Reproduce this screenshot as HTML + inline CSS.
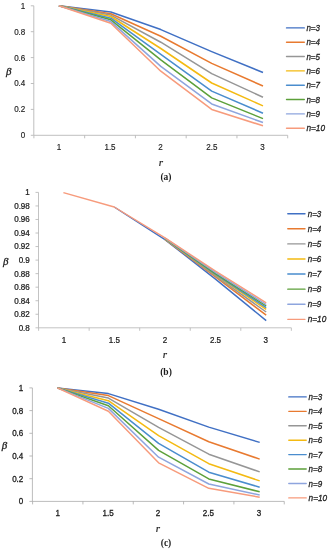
<!DOCTYPE html>
<html><head><meta charset="utf-8"><title>Figure</title>
<style>html,body{margin:0;padding:0;background:#fff}svg{display:block}</style></head>
<body>
<svg width="329" height="550" viewBox="0 0 329 550">
<rect width="329" height="550" fill="#fff"/>
<path d="M33.8 5.8V135.3H287.7" fill="none" stroke="#B8B8B8" stroke-width="0.9"/>
<path d="M30.799999999999997 5.8H33.8M30.799999999999997 31.7H33.8M30.799999999999997 57.6H33.8M30.799999999999997 83.5H33.8M30.799999999999997 109.4H33.8M30.799999999999997 135.3H33.8M33.9 135.3V138.3M84.66 135.3V138.3M135.42 135.3V138.3M186.18 135.3V138.3M236.94 135.3V138.3M287.7 135.3V138.3" fill="none" stroke="#B8B8B8" stroke-width="0.9"/>
<g font-family="Liberation Sans, sans-serif" font-size="8.3" fill="#1c1c1c" stroke="#1c1c1c" stroke-width="0.15">
<g text-anchor="end">
<text transform="translate(25.3 8.7) scale(0.97 1)">1</text>
<text transform="translate(25.3 34.6) scale(0.97 1)">0.8</text>
<text transform="translate(25.3 60.5) scale(0.97 1)">0.6</text>
<text transform="translate(25.3 86.4) scale(0.97 1)">0.4</text>
<text transform="translate(25.3 112.3) scale(0.97 1)">0.2</text>
<text transform="translate(25.3 138.2) scale(0.97 1)">0</text>
</g><g text-anchor="middle">
<text transform="translate(59.1 150.3) scale(0.97 1)">1</text>
<text transform="translate(110 150.3) scale(0.97 1)">1.5</text>
<text transform="translate(160.5 150.3) scale(0.97 1)">2</text>
<text transform="translate(211.8 150.3) scale(0.97 1)">2.5</text>
<text transform="translate(262.4 150.3) scale(0.97 1)">3</text>
</g></g>
<polyline points="58.9,5.8 110.8,12 160.8,29.6 211.7,51.6 263,72.5" fill="none" stroke="#4070C4" stroke-width="1.55" stroke-linejoin="round" stroke-linecap="butt"/>
<polyline points="58.9,5.8 110.8,13.7 160.8,36.3 211.7,63.4 263,86" fill="none" stroke="#E87A30" stroke-width="1.55" stroke-linejoin="round" stroke-linecap="butt"/>
<polyline points="58.9,5.8 110.8,15.1 160.8,42.2 211.7,73.6 263,97.2" fill="none" stroke="#969696" stroke-width="1.55" stroke-linejoin="round" stroke-linecap="butt"/>
<polyline points="58.9,5.8 110.8,16.5 160.8,48.5 211.7,83 263,105.9" fill="none" stroke="#F4BA12" stroke-width="1.55" stroke-linejoin="round" stroke-linecap="butt"/>
<polyline points="58.9,5.8 110.8,18.2 160.8,54.3 211.7,91.1 263,113.2" fill="none" stroke="#4A8DCE" stroke-width="1.55" stroke-linejoin="round" stroke-linecap="butt"/>
<polyline points="58.9,5.8 110.8,19.8 160.8,59.9 211.7,97.9 263,118.6" fill="none" stroke="#5CA03A" stroke-width="1.55" stroke-linejoin="round" stroke-linecap="butt"/>
<polyline points="58.9,5.8 110.8,21.6 160.8,66.4 211.7,103.9 263,122.6" fill="none" stroke="#8EA5DE" stroke-width="1.55" stroke-linejoin="round" stroke-linecap="butt"/>
<polyline points="58.9,5.8 110.8,23.2 160.8,71.2 211.7,109.4 263,125.8" fill="none" stroke="#F79B7C" stroke-width="1.55" stroke-linejoin="round" stroke-linecap="butt"/>
<g font-family="Liberation Sans, sans-serif" font-size="9.2" font-style="italic" fill="#1c1c1c" stroke="#1c1c1c" stroke-width="0.3">
<path d="M286.5 27.9H304.3" stroke="#4070C4" stroke-width="1.4" stroke-linecap="round"/>
<text x="306.4" y="31" textLength="13.6" lengthAdjust="spacingAndGlyphs">n=3</text>
<path d="M286.5 42.23H304.3" stroke="#E87A30" stroke-width="1.4" stroke-linecap="round"/>
<text x="306.4" y="45.33" textLength="13.6" lengthAdjust="spacingAndGlyphs">n=4</text>
<path d="M286.5 56.56H304.3" stroke="#969696" stroke-width="1.4" stroke-linecap="round"/>
<text x="306.4" y="59.66" textLength="13.6" lengthAdjust="spacingAndGlyphs">n=5</text>
<path d="M286.5 70.89H304.3" stroke="#F4BA12" stroke-width="1.4" stroke-linecap="round"/>
<text x="306.4" y="73.99" textLength="13.6" lengthAdjust="spacingAndGlyphs">n=6</text>
<path d="M286.5 85.22H304.3" stroke="#4A8DCE" stroke-width="1.4" stroke-linecap="round"/>
<text x="306.4" y="88.32" textLength="13.6" lengthAdjust="spacingAndGlyphs">n=7</text>
<path d="M286.5 99.55H304.3" stroke="#5CA03A" stroke-width="1.4" stroke-linecap="round"/>
<text x="306.4" y="102.65" textLength="13.6" lengthAdjust="spacingAndGlyphs">n=8</text>
<path d="M286.5 113.88H304.3" stroke="#8EA5DE" stroke-width="1.4" stroke-linecap="round"/>
<text x="306.4" y="116.98" textLength="13.6" lengthAdjust="spacingAndGlyphs">n=9</text>
<path d="M286.5 128.21H304.3" stroke="#F79B7C" stroke-width="1.4" stroke-linecap="round"/>
<text x="306.4" y="131.31" textLength="18.6" lengthAdjust="spacingAndGlyphs">n=10</text>
</g>
<text x="6" y="75.2" font-family="Liberation Serif, serif" font-style="italic" font-size="11" fill="#1c1c1c" stroke="#1c1c1c" stroke-width="0.3">β</text>
<text x="161" y="165.5" text-anchor="middle" font-family="Liberation Serif, serif" font-style="italic" font-size="11" fill="#1c1c1c" stroke="#1c1c1c" stroke-width="0.2">r</text>
<text x="166" y="179.8" text-anchor="middle" font-family="Liberation Serif, serif" font-weight="bold" font-size="9.5" fill="#1a1a1a">(a)</text>
<path d="M38.5 192.4V327.8H291.35" fill="none" stroke="#B4B4B4" stroke-width="0.8"/>
<path d="M35.5 192.4H38.5M35.5 205.94H38.5M35.5 219.48H38.5M35.5 233.02H38.5M35.5 246.56H38.5M35.5 260.1H38.5M35.5 273.64H38.5M35.5 287.18H38.5M35.5 300.72H38.5M35.5 314.26H38.5M35.5 327.8H38.5M38.6 327.8V330.8M89.15 327.8V330.8M139.7 327.8V330.8M190.25 327.8V330.8M240.8 327.8V330.8M291.35 327.8V330.8" fill="none" stroke="#B4B4B4" stroke-width="0.8"/>
<g font-family="Liberation Sans, sans-serif" font-size="8.3" fill="#1c1c1c" stroke="#1c1c1c" stroke-width="0.25">
<g text-anchor="end">
<text transform="translate(29.8 195.3) scale(0.97 1)">1</text>
<text transform="translate(29.8 208.84) scale(0.97 1)">0.98</text>
<text transform="translate(29.8 222.38) scale(0.97 1)">0.96</text>
<text transform="translate(29.8 235.92) scale(0.97 1)">0.94</text>
<text transform="translate(29.8 249.46) scale(0.97 1)">0.92</text>
<text transform="translate(29.8 263) scale(0.97 1)">0.9</text>
<text transform="translate(29.8 276.54) scale(0.97 1)">0.88</text>
<text transform="translate(29.8 290.08) scale(0.97 1)">0.86</text>
<text transform="translate(29.8 303.62) scale(0.97 1)">0.84</text>
<text transform="translate(29.8 317.16) scale(0.97 1)">0.82</text>
<text transform="translate(29.8 330.7) scale(0.97 1)">0.8</text>
</g><g text-anchor="middle">
<text transform="translate(64.1 342.6) scale(0.97 1)">1</text>
<text transform="translate(114.3 342.6) scale(0.97 1)">1.5</text>
<text transform="translate(165 342.6) scale(0.97 1)">2</text>
<text transform="translate(215.5 342.6) scale(0.97 1)">2.5</text>
<text transform="translate(265.8 342.6) scale(0.97 1)">3</text>
</g></g>
<polyline points="114.2,207 165,239.6 215.5,279.1 266.2,320.6" fill="none" stroke="#4070C4" stroke-width="1.45" stroke-linejoin="round" stroke-linecap="butt"/>
<polyline points="165,239.3 215.5,276.9 266.2,315.2" fill="none" stroke="#E87A30" stroke-width="1.45" stroke-linejoin="round" stroke-linecap="butt"/>
<polyline points="165,239.1 215.5,275.9 266.2,312" fill="none" stroke="#969696" stroke-width="1.45" stroke-linejoin="round" stroke-linecap="butt"/>
<polyline points="165,238.9 215.5,275 266.2,309.4" fill="none" stroke="#F4BA12" stroke-width="1.45" stroke-linejoin="round" stroke-linecap="butt"/>
<polyline points="165,238.7 215.5,274.3 266.2,307.7" fill="none" stroke="#4A8DCE" stroke-width="1.45" stroke-linejoin="round" stroke-linecap="butt"/>
<polyline points="165,238.5 215.5,273.6 266.2,306" fill="none" stroke="#5CA03A" stroke-width="1.45" stroke-linejoin="round" stroke-linecap="butt"/>
<polyline points="165,238.2 215.5,272.4 266.2,304.5" fill="none" stroke="#8EA5DE" stroke-width="1.45" stroke-linejoin="round" stroke-linecap="butt"/>
<polyline points="63.4,192.6 114.2,207 165,237.8 215.5,271.2 266.2,302.8" fill="none" stroke="#F79B7C" stroke-width="1.45" stroke-linejoin="round" stroke-linecap="butt"/>
<g font-family="Liberation Sans, sans-serif" font-size="9.2" font-style="italic" fill="#1c1c1c" stroke="#1c1c1c" stroke-width="0.3">
<path d="M287.8 213.7H305" stroke="#4070C4" stroke-width="1.4" stroke-linecap="round"/>
<text x="307.7" y="216.8" textLength="13.6" lengthAdjust="spacingAndGlyphs">n=3</text>
<path d="M287.8 228.79H305" stroke="#E87A30" stroke-width="1.4" stroke-linecap="round"/>
<text x="307.7" y="231.89" textLength="13.6" lengthAdjust="spacingAndGlyphs">n=4</text>
<path d="M287.8 243.88H305" stroke="#969696" stroke-width="1.4" stroke-linecap="round"/>
<text x="307.7" y="246.98" textLength="13.6" lengthAdjust="spacingAndGlyphs">n=5</text>
<path d="M287.8 258.97H305" stroke="#F4BA12" stroke-width="1.4" stroke-linecap="round"/>
<text x="307.7" y="262.07" textLength="13.6" lengthAdjust="spacingAndGlyphs">n=6</text>
<path d="M287.8 274.06H305" stroke="#4A8DCE" stroke-width="1.4" stroke-linecap="round"/>
<text x="307.7" y="277.16" textLength="13.6" lengthAdjust="spacingAndGlyphs">n=7</text>
<path d="M287.8 289.15H305" stroke="#5CA03A" stroke-width="1.4" stroke-linecap="round"/>
<text x="307.7" y="292.25" textLength="13.6" lengthAdjust="spacingAndGlyphs">n=8</text>
<path d="M287.8 304.24H305" stroke="#8EA5DE" stroke-width="1.4" stroke-linecap="round"/>
<text x="307.7" y="307.34" textLength="13.6" lengthAdjust="spacingAndGlyphs">n=9</text>
<path d="M287.8 319.33H305" stroke="#F79B7C" stroke-width="1.4" stroke-linecap="round"/>
<text x="307.7" y="322.43" textLength="18.6" lengthAdjust="spacingAndGlyphs">n=10</text>
</g>
<text x="2.9" y="264.6" font-family="Liberation Serif, serif" font-style="italic" font-size="11" fill="#1c1c1c" stroke="#1c1c1c" stroke-width="0.3">β</text>
<text x="164.8" y="358.3" text-anchor="middle" font-family="Liberation Serif, serif" font-style="italic" font-size="11" fill="#1c1c1c" stroke="#1c1c1c" stroke-width="0.2">r</text>
<text x="166" y="375.2" text-anchor="middle" font-family="Liberation Serif, serif" font-weight="bold" font-size="9.5" fill="#1a1a1a">(b)</text>
<path d="M32.4 387.9V501.4H284.25" fill="none" stroke="#A4A4A4" stroke-width="0.75"/>
<path d="M29.4 387.9H32.4M29.4 410.6H32.4M29.4 433.3H32.4M29.4 456H32.4M29.4 478.7H32.4M29.4 501.4H32.4M32.6 501.4V504.4M82.93 501.4V504.4M133.26 501.4V504.4M183.59 501.4V504.4M233.92 501.4V504.4M284.25 501.4V504.4" fill="none" stroke="#A4A4A4" stroke-width="0.75"/>
<g font-family="Liberation Sans, sans-serif" font-size="8.3" fill="#1c1c1c" stroke="#1c1c1c" stroke-width="0.3">
<g text-anchor="end">
<text transform="translate(23.3 390.8) scale(0.97 1)">1</text>
<text transform="translate(23.3 413.5) scale(0.97 1)">0.8</text>
<text transform="translate(23.3 436.2) scale(0.97 1)">0.6</text>
<text transform="translate(23.3 458.9) scale(0.97 1)">0.4</text>
<text transform="translate(23.3 481.6) scale(0.97 1)">0.2</text>
<text transform="translate(23.3 504.3) scale(0.97 1)">0</text>
</g><g text-anchor="middle">
<text transform="translate(57.8 516.3) scale(0.97 1)">1</text>
<text transform="translate(108.2 516.3) scale(0.97 1)">1.5</text>
<text transform="translate(157.9 516.3) scale(0.97 1)">2</text>
<text transform="translate(208.4 516.3) scale(0.97 1)">2.5</text>
<text transform="translate(259.1 516.3) scale(0.97 1)">3</text>
</g></g>
<polyline points="57.3,387.9 108.4,393.6 158.6,409.3 208.8,427.1 259.7,442.4" fill="none" stroke="#4070C4" stroke-width="1.5" stroke-linejoin="round" stroke-linecap="butt"/>
<polyline points="57.3,387.9 108.4,395.6 158.6,418.6 208.8,441.8 259.7,459.1" fill="none" stroke="#E87A30" stroke-width="1.5" stroke-linejoin="round" stroke-linecap="butt"/>
<polyline points="57.3,387.9 108.4,398.1 158.6,427.3 208.8,454.2 259.7,471.9" fill="none" stroke="#969696" stroke-width="1.5" stroke-linejoin="round" stroke-linecap="butt"/>
<polyline points="57.3,387.9 108.4,400.7 158.6,435.6 208.8,463.7 259.7,480.9" fill="none" stroke="#F4BA12" stroke-width="1.5" stroke-linejoin="round" stroke-linecap="butt"/>
<polyline points="57.3,387.9 108.4,403.2 158.6,443.4 208.8,472.2 259.7,487.2" fill="none" stroke="#4A8DCE" stroke-width="1.5" stroke-linejoin="round" stroke-linecap="butt"/>
<polyline points="57.3,387.9 108.4,405.8 158.6,450.4 208.8,478.9 259.7,491.8" fill="none" stroke="#5CA03A" stroke-width="1.5" stroke-linejoin="round" stroke-linecap="butt"/>
<polyline points="57.3,387.9 108.4,408.4 158.6,457.2 208.8,484 259.7,495" fill="none" stroke="#8EA5DE" stroke-width="1.5" stroke-linejoin="round" stroke-linecap="butt"/>
<polyline points="57.3,387.9 108.4,411.3 158.6,462.8 208.8,488.3 259.7,497.2" fill="none" stroke="#F79B7C" stroke-width="1.5" stroke-linejoin="round" stroke-linecap="butt"/>
<g font-family="Liberation Sans, sans-serif" font-size="9.2" font-style="italic" fill="#1c1c1c" stroke="#1c1c1c" stroke-width="0.3">
<path d="M288.8 396.9H306.2" stroke="#4070C4" stroke-width="1.4" stroke-linecap="round"/>
<text x="308.6" y="400" textLength="13.6" lengthAdjust="spacingAndGlyphs">n=3</text>
<path d="M288.8 411.33H306.2" stroke="#E87A30" stroke-width="1.4" stroke-linecap="round"/>
<text x="308.6" y="414.43" textLength="13.6" lengthAdjust="spacingAndGlyphs">n=4</text>
<path d="M288.8 425.76H306.2" stroke="#969696" stroke-width="1.4" stroke-linecap="round"/>
<text x="308.6" y="428.86" textLength="13.6" lengthAdjust="spacingAndGlyphs">n=5</text>
<path d="M288.8 440.19H306.2" stroke="#F4BA12" stroke-width="1.4" stroke-linecap="round"/>
<text x="308.6" y="443.29" textLength="13.6" lengthAdjust="spacingAndGlyphs">n=6</text>
<path d="M288.8 454.62H306.2" stroke="#4A8DCE" stroke-width="1.4" stroke-linecap="round"/>
<text x="308.6" y="457.72" textLength="13.6" lengthAdjust="spacingAndGlyphs">n=7</text>
<path d="M288.8 469.05H306.2" stroke="#5CA03A" stroke-width="1.4" stroke-linecap="round"/>
<text x="308.6" y="472.15" textLength="13.6" lengthAdjust="spacingAndGlyphs">n=8</text>
<path d="M288.8 483.48H306.2" stroke="#8EA5DE" stroke-width="1.4" stroke-linecap="round"/>
<text x="308.6" y="486.58" textLength="13.6" lengthAdjust="spacingAndGlyphs">n=9</text>
<path d="M288.8 497.91H306.2" stroke="#F79B7C" stroke-width="1.4" stroke-linecap="round"/>
<text x="308.6" y="501.01" textLength="18.6" lengthAdjust="spacingAndGlyphs">n=10</text>
</g>
<text x="1.7" y="448.9" font-family="Liberation Serif, serif" font-style="italic" font-size="11" fill="#1c1c1c" stroke="#1c1c1c" stroke-width="0.3">β</text>
<text x="158" y="531.5" text-anchor="middle" font-family="Liberation Serif, serif" font-style="italic" font-size="11" fill="#1c1c1c" stroke="#1c1c1c" stroke-width="0.2">r</text>
<text x="166" y="545.9" text-anchor="middle" font-family="Liberation Serif, serif" font-weight="bold" font-size="9.5" fill="#1a1a1a">(c)</text>
</svg>
</body></html>
